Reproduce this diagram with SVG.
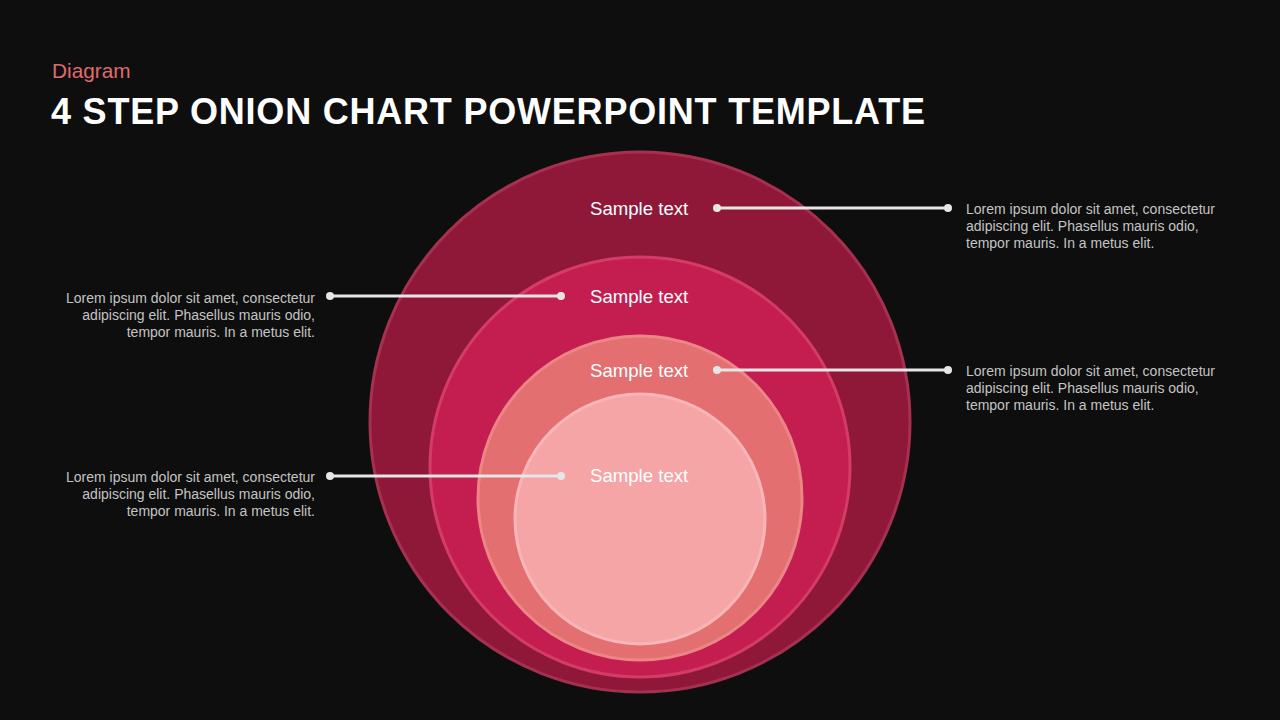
<svg xmlns="http://www.w3.org/2000/svg" width="1280" height="720" viewBox="0 0 1280 720">
<style>
.lbl{font-family:"Liberation Sans",Arial,sans-serif;font-size:18.6px;fill:#ffffff}
.desc{font-family:"Liberation Sans",Arial,sans-serif;font-size:14px;fill:#c4c4c4}
.ring{stroke-width:3}
.conn{stroke:#e6e6e6;stroke-width:3;fill:none}
.dot{fill:#e6e6e6}
</style>
<rect width="1280" height="720" fill="#0e0e0e"/>
<text x="52" y="78" font-family="Liberation Sans,Arial,sans-serif" font-size="20.8" fill="#e06a6c">Diagram</text>
<text x="51" y="124" font-family="Liberation Sans,Arial,sans-serif" font-size="36" font-weight="bold" fill="#ffffff" textLength="874" lengthAdjust="spacing">4 STEP ONION CHART POWERPOINT TEMPLATE</text>
<g id="ring1"><circle cx="640" cy="422" r="270" fill="#8f1838" stroke="#a63050" class="ring"/></g>
<g id="ring2"><circle cx="640" cy="467" r="210" fill="#c41e50" stroke="#d43c66" class="ring"/></g>
<g id="ring3"><circle cx="640" cy="498" r="162" fill="#e36f70" stroke="#ec8686" class="ring"/></g>
<g id="ring4"><circle cx="640" cy="519" r="125" fill="#f6a5a7" stroke="#f9b6b8" class="ring"/></g>
<g id="connectors">
<line class="conn" x1="717" y1="208" x2="948" y2="208"/><circle class="dot" cx="717" cy="208" r="4"/><circle class="dot" cx="948" cy="208" r="4"/>
<line class="conn" x1="330" y1="296" x2="561" y2="296"/><circle class="dot" cx="330" cy="296" r="4"/><circle class="dot" cx="561" cy="296" r="4"/>
<line class="conn" x1="717" y1="370" x2="948" y2="370"/><circle class="dot" cx="717" cy="370" r="4"/><circle class="dot" cx="948" cy="370" r="4"/>
<line class="conn" x1="330" y1="476" x2="561" y2="476"/><circle class="dot" cx="330" cy="476" r="4"/><circle class="dot" cx="561" cy="476" r="4"/>
</g>
<g id="labels">
<text class="lbl" x="590" y="215">Sample text</text>
<text class="lbl" x="590" y="303">Sample text</text>
<text class="lbl" x="590" y="377">Sample text</text>
<text class="lbl" x="590" y="482">Sample text</text>
</g>
<g id="desc1"><text class="desc" x="966" y="214">Lorem ipsum dolor sit amet, consectetur</text><text class="desc" x="966" y="231">adipiscing elit. Phasellus mauris odio,</text><text class="desc" x="966" y="248">tempor mauris. In a metus elit.</text></g>
<g id="desc2" text-anchor="end"><text class="desc" x="315" y="303">Lorem ipsum dolor sit amet, consectetur</text><text class="desc" x="315" y="320">adipiscing elit. Phasellus mauris odio,</text><text class="desc" x="315" y="337">tempor mauris. In a metus elit.</text></g>
<g id="desc3"><text class="desc" x="966" y="376">Lorem ipsum dolor sit amet, consectetur</text><text class="desc" x="966" y="393">adipiscing elit. Phasellus mauris odio,</text><text class="desc" x="966" y="410">tempor mauris. In a metus elit.</text></g>
<g id="desc4" text-anchor="end"><text class="desc" x="315" y="482">Lorem ipsum dolor sit amet, consectetur</text><text class="desc" x="315" y="499">adipiscing elit. Phasellus mauris odio,</text><text class="desc" x="315" y="516">tempor mauris. In a metus elit.</text></g>
</svg>
